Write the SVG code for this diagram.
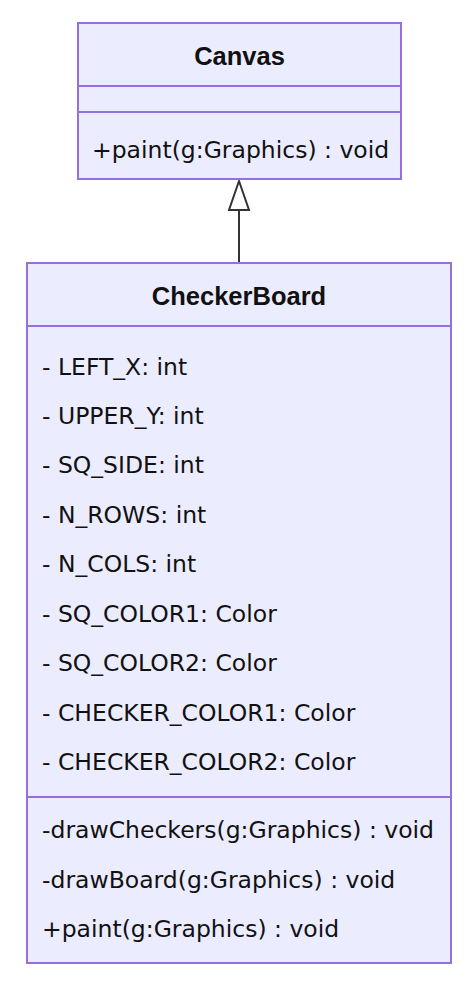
<svg xmlns="http://www.w3.org/2000/svg" width="474" height="988" viewBox="0 0 474 988">
<style>
.box{fill:#ECECFF;stroke:#9370DB;stroke-width:2}
.div{stroke:#9370DB;stroke-width:2}
.t{font-family:"DejaVu Sans",sans-serif;font-size:23.5px;fill:#111}
.title{font-family:"Liberation Sans",Arial,sans-serif;font-weight:bold;font-size:25.5px;fill:#111;text-anchor:middle}
.edge{stroke:#333;stroke-width:2;fill:none}
.head{fill:#fff;stroke:#333;stroke-width:2}
</style>
<rect width="474" height="988" fill="#fff"/>
<g id="connectors">
<line class="edge" x1="239" y1="210" x2="239" y2="263"/>
<polygon class="head" points="239,181 229,210 249,210"/>
</g>
<g id="Canvas">
<rect class="box" x="78" y="23" width="323" height="156"/>
<line class="div" x1="78" y1="86" x2="401" y2="86"/>
<line class="div" x1="78" y1="112" x2="401" y2="112"/>
<text class="title" x="239.5" y="65">Canvas</text>
<text class="t" x="92" y="158">+paint(g:Graphics) : void</text>
</g>
<g id="CheckerBoard">
<rect class="box" x="27" y="263" width="424" height="700"/>
<line class="div" x1="27" y1="326" x2="451" y2="326"/>
<line class="div" x1="27" y1="797" x2="451" y2="797"/>
<text class="title" x="239" y="305">CheckerBoard</text>
<text class="t" x="42" y="375">- LEFT_X: int</text>
<text class="t" x="42" y="424">- UPPER_Y: int</text>
<text class="t" x="42" y="473">- SQ_SIDE: int</text>
<text class="t" x="42" y="523">- N_ROWS: int</text>
<text class="t" x="42" y="572">- N_COLS: int</text>
<text class="t" x="42" y="622">- SQ_COLOR1: Color</text>
<text class="t" x="42" y="671">- SQ_COLOR2: Color</text>
<text class="t" x="42" y="721">- CHECKER_COLOR1: Color</text>
<text class="t" x="42" y="770">- CHECKER_COLOR2: Color</text>
<text class="t" x="42" y="838">-drawCheckers(g:Graphics) : void</text>
<text class="t" x="42" y="888">-drawBoard(g:Graphics) : void</text>
<text class="t" x="42" y="937">+paint(g:Graphics) : void</text>
</g>
</svg>
